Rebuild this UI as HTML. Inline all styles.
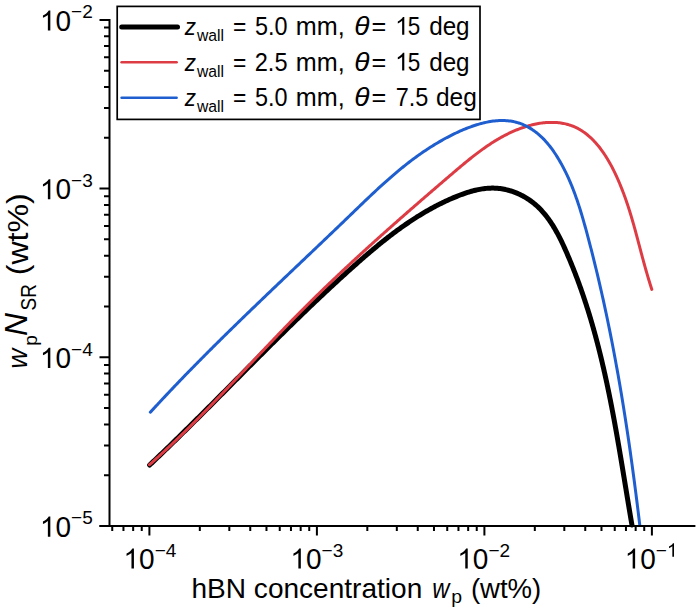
<!DOCTYPE html>
<html><head><meta charset="utf-8"><style>
html,body{margin:0;padding:0;background:#fff;}
svg{display:block;}
text{font-family:"Liberation Sans",sans-serif;fill:#000;}
</style></head><body>
<svg width="700" height="614" viewBox="0 0 700 614">
<rect width="700" height="614" fill="#fff"/>
<g fill="none" stroke-linejoin="round" stroke-linecap="round">
<path d="M149.64,465.02 L150.65,464.06 L151.66,463.09 L152.68,462.13 L153.69,461.17 L154.70,460.21 L155.71,459.24 L156.72,458.28 L157.73,457.31 L158.74,456.35 L159.75,455.38 L160.76,454.42 L161.76,453.45 L162.77,452.48 L163.77,451.51 L164.78,450.55 L165.78,449.58 L166.78,448.61 L167.79,447.64 L168.79,446.67 L169.79,445.70 L170.79,444.73 L171.79,443.76 L172.79,442.79 L173.78,441.81 L174.78,440.84 L175.78,439.87 L176.77,438.90 L177.77,437.92 L178.76,436.95 L179.76,435.97 L180.75,435.00 L181.74,434.03 L182.74,433.05 L183.73,432.08 L184.72,431.10 L185.71,430.12 L186.70,429.15 L187.69,428.17 L188.68,427.19 L189.67,426.22 L190.66,425.24 L191.64,424.26 L192.63,423.28 L193.62,422.31 L194.61,421.33 L195.59,420.35 L196.58,419.37 L197.56,418.39 L198.55,417.41 L199.53,416.43 L200.52,415.45 L201.50,414.47 L202.48,413.49 L203.46,412.51 L204.45,411.53 L205.43,410.55 L206.41,409.57 L207.39,408.59 L208.37,407.61 L209.36,406.63 L210.34,405.65 L211.32,404.66 L212.30,403.68 L213.28,402.70 L214.26,401.72 L215.24,400.74 L216.22,399.75 L217.19,398.77 L218.17,397.79 L219.15,396.81 L220.13,395.83 L221.11,394.84 L222.09,393.86 L223.06,392.88 L224.04,391.90 L225.02,390.91 L226.00,389.93 L226.97,388.95 L227.95,387.96 L228.93,386.98 L229.91,386.00 L230.88,385.02 L231.86,384.03 L232.84,383.05 L233.81,382.07 L234.79,381.09 L235.77,380.10 L236.74,379.12 L237.72,378.14 L238.70,377.16 L239.67,376.17 L240.65,375.19 L241.63,374.21 L242.60,373.23 L243.58,372.25 L244.56,371.26 L245.53,370.28 L246.51,369.30 L247.49,368.32 L248.47,367.34 L249.44,366.36 L250.42,365.38 L251.40,364.40 L252.38,363.41 L253.35,362.43 L254.33,361.45 L255.31,360.47 L256.29,359.49 L257.27,358.51 L258.24,357.53 L259.22,356.55 L260.20,355.57 L261.18,354.60 L262.16,353.62 L263.14,352.64 L264.12,351.66 L265.10,350.68 L266.08,349.70 L267.06,348.73 L268.04,347.75 L269.03,346.77 L270.01,345.80 L270.99,344.82 L271.97,343.84 L272.96,342.87 L273.94,341.89 L274.92,340.92 L275.91,339.94 L276.89,338.97 L277.88,337.99 L278.86,337.02 L279.85,336.04 L280.83,335.07 L281.82,334.10 L282.80,333.13 L283.79,332.15 L284.78,331.18 L285.77,330.21 L286.76,329.24 L287.75,328.27 L288.74,327.30 L289.73,326.33 L290.72,325.36 L291.71,324.39 L292.70,323.42 L293.69,322.45 L294.68,321.49 L295.68,320.52 L296.67,319.55 L297.67,318.59 L298.66,317.62 L299.66,316.66 L300.65,315.69 L301.65,314.73 L302.65,313.76 L303.65,312.80 L304.65,311.84 L305.65,310.87 L306.65,309.91 L307.65,308.95 L308.65,307.99 L309.65,307.03 L310.65,306.07 L311.66,305.11 L312.66,304.15 L313.67,303.20 L314.67,302.24 L315.68,301.28 L316.69,300.33 L317.70,299.37 L318.71,298.42 L319.72,297.46 L320.73,296.51 L321.74,295.56 L322.75,294.60 L323.76,293.65 L324.78,292.70 L325.79,291.75 L326.81,290.80 L327.83,289.85 L328.84,288.90 L329.86,287.96 L330.88,287.01 L331.90,286.06 L332.92,285.12 L333.95,284.17 L334.97,283.23 L335.99,282.29 L337.02,281.34 L338.04,280.40 L339.07,279.46 L340.10,278.52 L341.13,277.58 L342.16,276.64 L343.19,275.70 L344.22,274.77 L345.26,273.83 L346.29,272.89 L347.33,271.96 L348.36,271.02 L349.40,270.09 L350.44,269.16 L351.48,268.23 L352.52,267.30 L353.56,266.37 L354.60,265.44 L355.65,264.51 L356.70,263.58 L357.74,262.66 L358.79,261.74 L359.84,260.81 L360.89,259.89 L361.95,258.97 L363.00,258.06 L364.06,257.14 L365.11,256.23 L366.17,255.31 L367.23,254.40 L368.30,253.50 L369.36,252.59 L370.43,251.69 L371.50,250.79 L372.57,249.89 L373.64,248.99 L374.71,248.10 L375.79,247.21 L376.86,246.32 L377.94,245.43 L379.03,244.55 L380.11,243.67 L381.20,242.79 L382.28,241.92 L383.37,241.04 L384.47,240.18 L385.56,239.31 L386.66,238.45 L387.76,237.59 L388.86,236.74 L389.97,235.89 L391.07,235.04 L392.18,234.20 L393.30,233.36 L394.41,232.52 L395.53,231.69 L396.65,230.86 L397.77,230.04 L398.90,229.22 L400.03,228.40 L401.16,227.59 L402.29,226.79 L403.43,225.98 L404.57,225.19 L405.71,224.39 L406.86,223.61 L408.01,222.82 L409.16,222.04 L410.32,221.27 L411.48,220.50 L412.64,219.74 L413.80,218.98 L414.97,218.23 L416.14,217.48 L417.32,216.74 L418.50,216.00 L419.68,215.27 L420.86,214.55 L422.05,213.83 L423.24,213.11 L424.44,212.40 L425.64,211.70 L426.84,211.01 L428.05,210.32 L429.26,209.63 L430.48,208.95 L431.69,208.28 L432.92,207.62 L434.14,206.96 L435.37,206.31 L436.61,205.66 L437.84,205.03 L439.09,204.39 L440.33,203.77 L441.58,203.15 L442.84,202.54 L444.10,201.94 L445.36,201.34 L446.63,200.75 L447.90,200.17 L449.17,199.59 L450.45,199.03 L451.74,198.47 L453.03,197.91 L454.32,197.37 L455.62,196.83 L456.92,196.31 L458.23,195.79 L459.54,195.28 L460.85,194.78 L462.17,194.29 L463.49,193.81 L464.82,193.35 L466.15,192.90 L467.49,192.46 L468.82,192.04 L470.16,191.64 L471.51,191.25 L472.85,190.89 L474.20,190.54 L475.55,190.21 L476.90,189.90 L478.26,189.61 L479.62,189.35 L480.98,189.10 L482.34,188.89 L483.70,188.69 L485.07,188.53 L486.43,188.38 L487.80,188.27 L489.17,188.18 L490.54,188.13 L491.91,188.10 L493.28,188.10 L494.65,188.14 L496.03,188.20 L497.40,188.30 L498.77,188.44 L500.14,188.60 L501.51,188.79 L502.87,189.02 L504.23,189.27 L505.59,189.56 L506.94,189.88 L508.29,190.22 L509.63,190.59 L510.96,190.99 L512.28,191.42 L513.60,191.88 L514.90,192.36 L516.20,192.87 L517.48,193.40 L518.76,193.96 L520.02,194.55 L521.27,195.16 L522.50,195.79 L523.72,196.45 L524.92,197.13 L526.11,197.83 L527.28,198.55 L528.44,199.30 L529.57,200.07 L530.69,200.86 L531.79,201.67 L532.87,202.50 L533.93,203.35 L534.97,204.22 L536.00,205.10 L537.00,206.01 L537.99,206.93 L538.97,207.87 L539.92,208.83 L540.86,209.81 L541.79,210.80 L542.69,211.81 L543.59,212.83 L544.47,213.87 L545.33,214.92 L546.18,215.99 L547.01,217.07 L547.84,218.16 L548.64,219.27 L549.44,220.39 L550.22,221.52 L550.99,222.66 L551.75,223.82 L552.50,224.98 L553.23,226.16 L553.95,227.35 L554.67,228.54 L555.37,229.75 L556.06,230.96 L556.74,232.18 L557.42,233.41 L558.08,234.65 L558.74,235.90 L559.38,237.15 L560.02,238.40 L560.65,239.67 L561.27,240.94 L561.89,242.21 L562.50,243.49 L563.10,244.77 L563.69,246.06 L564.28,247.35 L564.87,248.64 L565.44,249.94 L566.02,251.24 L566.59,252.54 L567.15,253.84 L567.71,255.14 L568.27,256.44 L568.82,257.75 L569.37,259.05 L569.91,260.35 L570.45,261.66 L570.99,262.96 L571.52,264.27 L572.05,265.58 L572.58,266.88 L573.10,268.19 L573.62,269.50 L574.14,270.81 L574.65,272.12 L575.16,273.43 L575.66,274.74 L576.16,276.05 L576.66,277.37 L577.15,278.68 L577.64,279.99 L578.13,281.31 L578.61,282.62 L579.09,283.94 L579.57,285.25 L580.04,286.57 L580.51,287.89 L580.98,289.21 L581.44,290.52 L581.90,291.84 L582.36,293.16 L582.81,294.48 L583.26,295.80 L583.71,297.13 L584.15,298.45 L584.59,299.77 L585.03,301.09 L585.47,302.42 L585.90,303.74 L586.33,305.06 L586.75,306.39 L587.17,307.72 L587.59,309.04 L588.01,310.37 L588.42,311.70 L588.83,313.02 L589.24,314.35 L589.65,315.68 L590.05,317.01 L590.45,318.34 L590.84,319.67 L591.24,321.00 L591.63,322.33 L592.02,323.67 L592.40,325.00 L592.79,326.33 L593.17,327.67 L593.54,329.00 L593.92,330.33 L594.29,331.67 L594.66,333.01 L595.03,334.34 L595.39,335.68 L595.75,337.02 L596.11,338.35 L596.47,339.69 L596.83,341.03 L597.18,342.37 L597.53,343.71 L597.88,345.05 L598.22,346.39 L598.57,347.73 L598.91,349.07 L599.24,350.41 L599.58,351.76 L599.91,353.10 L600.25,354.44 L600.58,355.78 L600.90,357.13 L601.23,358.47 L601.55,359.82 L601.87,361.16 L602.19,362.51 L602.51,363.86 L602.82,365.20 L603.14,366.55 L603.45,367.90 L603.76,369.25 L604.06,370.59 L604.37,371.94 L604.67,373.29 L604.97,374.64 L605.27,375.99 L605.57,377.34 L605.87,378.69 L606.16,380.05 L606.45,381.40 L606.75,382.75 L607.03,384.10 L607.32,385.45 L607.61,386.81 L607.89,388.16 L608.17,389.52 L608.45,390.87 L608.73,392.23 L609.01,393.58 L609.29,394.94 L609.56,396.29 L609.84,397.65 L610.11,399.01 L610.38,400.36 L610.65,401.72 L610.91,403.08 L611.18,404.44 L611.45,405.79 L611.71,407.15 L611.97,408.51 L612.23,409.87 L612.49,411.23 L612.75,412.59 L613.01,413.95 L613.26,415.31 L613.52,416.67 L613.77,418.04 L614.03,419.40 L614.28,420.76 L614.53,422.12 L614.78,423.49 L615.03,424.85 L615.27,426.21 L615.52,427.58 L615.77,428.94 L616.01,430.30 L616.25,431.67 L616.50,433.03 L616.74,434.40 L616.98,435.76 L617.22,437.13 L617.46,438.50 L617.70,439.86 L617.94,441.23 L618.17,442.60 L618.41,443.96 L618.65,445.33 L618.88,446.70 L619.12,448.07 L619.35,449.44 L619.58,450.80 L619.82,452.17 L620.05,453.54 L620.28,454.91 L620.51,456.28 L620.74,457.65 L620.97,459.02 L621.20,460.39 L621.43,461.76 L621.66,463.13 L621.89,464.50 L622.12,465.88 L622.35,467.25 L622.58,468.62 L622.80,469.99 L623.03,471.36 L623.26,472.74 L623.48,474.11 L623.71,475.48 L623.94,476.85 L624.16,478.23 L624.39,479.60 L624.62,480.97 L624.84,482.35 L625.07,483.72 L625.29,485.10 L625.52,486.47 L625.75,487.85 L625.97,489.22 L626.20,490.60 L626.43,491.97 L626.65,493.35 L626.88,494.72 L627.10,496.10 L627.33,497.47 L627.56,498.85 L627.79,500.23 L628.01,501.60 L628.24,502.98 L628.47,504.36 L628.70,505.73 L628.93,507.11 L629.16,508.49 L629.39,509.87 L629.62,511.24 L629.85,512.62 L630.08,514.00 L630.31,515.38 L630.54,516.75 L630.77,518.13 L631.01,519.51 L631.24,520.89 L631.47,522.27 L631.71,523.65 L631.94,525.03" stroke="#000" stroke-width="5"/>
<path d="M149.50,464.73 L150.42,463.91 L151.34,463.10 L152.26,462.28 L153.17,461.46 L154.09,460.63 L155.01,459.81 L155.92,458.98 L156.83,458.16 L157.75,457.33 L158.66,456.50 L159.57,455.67 L160.48,454.83 L161.38,454.00 L162.29,453.16 L163.20,452.32 L164.10,451.49 L165.00,450.65 L165.91,449.80 L166.81,448.96 L167.71,448.12 L168.61,447.27 L169.51,446.42 L170.41,445.58 L171.30,444.73 L172.20,443.88 L173.09,443.02 L173.99,442.17 L174.88,441.32 L175.77,440.46 L176.67,439.60 L177.56,438.75 L178.45,437.89 L179.34,437.03 L180.22,436.16 L181.11,435.30 L182.00,434.44 L182.89,433.57 L183.77,432.71 L184.65,431.84 L185.54,430.97 L186.42,430.10 L187.30,429.23 L188.18,428.36 L189.07,427.49 L189.95,426.62 L190.82,425.74 L191.70,424.87 L192.58,423.99 L193.46,423.11 L194.33,422.23 L195.21,421.36 L196.09,420.48 L196.96,419.60 L197.83,418.71 L198.71,417.83 L199.58,416.95 L200.45,416.07 L201.32,415.18 L202.19,414.30 L203.06,413.41 L203.93,412.52 L204.80,411.63 L205.67,410.75 L206.54,409.86 L207.41,408.97 L208.28,408.08 L209.14,407.19 L210.01,406.29 L210.87,405.40 L211.74,404.51 L212.60,403.62 L213.47,402.72 L214.33,401.83 L215.20,400.93 L216.06,400.04 L216.92,399.14 L217.78,398.24 L218.65,397.34 L219.51,396.45 L220.37,395.55 L221.23,394.65 L222.09,393.75 L222.95,392.85 L223.81,391.95 L224.67,391.05 L225.53,390.15 L226.39,389.25 L227.25,388.35 L228.11,387.44 L228.96,386.54 L229.82,385.64 L230.68,384.74 L231.54,383.83 L232.39,382.93 L233.25,382.03 L234.11,381.12 L234.96,380.22 L235.82,379.31 L236.68,378.41 L237.53,377.50 L238.39,376.60 L239.24,375.69 L240.10,374.79 L240.96,373.88 L241.81,372.98 L242.67,372.07 L243.52,371.17 L244.38,370.26 L245.23,369.36 L246.09,368.45 L246.94,367.54 L247.80,366.64 L248.65,365.73 L249.51,364.83 L250.36,363.92 L251.22,363.02 L252.07,362.11 L252.93,361.21 L253.78,360.30 L254.64,359.39 L255.49,358.49 L256.35,357.58 L257.20,356.68 L258.06,355.77 L258.91,354.87 L259.77,353.97 L260.62,353.06 L261.48,352.16 L262.33,351.25 L263.19,350.35 L264.05,349.45 L264.90,348.55 L265.76,347.64 L266.61,346.74 L267.47,345.84 L268.33,344.94 L269.19,344.04 L270.04,343.14 L270.90,342.24 L271.76,341.34 L272.62,340.44 L273.47,339.54 L274.33,338.64 L275.19,337.74 L276.05,336.84 L276.91,335.94 L277.77,335.05 L278.63,334.15 L279.49,333.26 L280.35,332.36 L281.21,331.47 L282.08,330.57 L282.94,329.68 L283.80,328.79 L284.66,327.89 L285.52,327.00 L286.39,326.11 L287.25,325.22 L288.12,324.33 L288.98,323.44 L289.85,322.55 L290.71,321.67 L291.58,320.78 L292.45,319.89 L293.31,319.01 L294.18,318.12 L295.05,317.24 L295.92,316.36 L296.79,315.48 L297.66,314.60 L298.53,313.71 L299.40,312.84 L300.27,311.96 L301.14,311.08 L302.01,310.20 L302.89,309.33 L303.76,308.45 L304.63,307.58 L305.51,306.70 L306.39,305.83 L307.26,304.96 L308.14,304.09 L309.01,303.22 L309.89,302.35 L310.77,301.48 L311.65,300.61 L312.53,299.75 L313.41,298.88 L314.29,298.02 L315.17,297.15 L316.05,296.29 L316.94,295.43 L317.82,294.56 L318.70,293.70 L319.59,292.84 L320.47,291.98 L321.36,291.12 L322.24,290.26 L323.13,289.41 L324.01,288.55 L324.90,287.69 L325.79,286.84 L326.68,285.98 L327.57,285.13 L328.46,284.28 L329.35,283.42 L330.24,282.57 L331.13,281.72 L332.02,280.87 L332.91,280.02 L333.81,279.17 L334.70,278.32 L335.59,277.47 L336.49,276.62 L337.38,275.78 L338.28,274.93 L339.17,274.09 L340.07,273.24 L340.97,272.40 L341.87,271.55 L342.76,270.71 L343.66,269.87 L344.56,269.02 L345.46,268.18 L346.36,267.34 L347.26,266.50 L348.17,265.66 L349.07,264.82 L349.97,263.98 L350.87,263.15 L351.78,262.31 L352.68,261.47 L353.59,260.63 L354.49,259.80 L355.40,258.96 L356.30,258.13 L357.21,257.29 L358.12,256.46 L359.03,255.62 L359.94,254.79 L360.84,253.96 L361.75,253.12 L362.66,252.29 L363.57,251.46 L364.49,250.63 L365.40,249.80 L366.31,248.97 L367.22,248.14 L368.14,247.31 L369.05,246.48 L369.96,245.65 L370.88,244.82 L371.79,244.00 L372.71,243.17 L373.63,242.34 L374.54,241.51 L375.46,240.69 L376.38,239.86 L377.30,239.04 L378.22,238.21 L379.14,237.38 L380.06,236.56 L380.98,235.74 L381.90,234.91 L382.82,234.09 L383.74,233.26 L384.66,232.44 L385.59,231.62 L386.51,230.79 L387.43,229.97 L388.36,229.15 L389.28,228.33 L390.21,227.51 L391.14,226.69 L392.06,225.86 L392.99,225.04 L393.92,224.22 L394.85,223.40 L395.77,222.58 L396.70,221.76 L397.63,220.94 L398.56,220.12 L399.49,219.30 L400.43,218.48 L401.36,217.66 L402.29,216.85 L403.22,216.03 L404.16,215.21 L405.09,214.39 L406.02,213.57 L406.96,212.75 L407.89,211.94 L408.83,211.12 L409.77,210.30 L410.70,209.48 L411.64,208.66 L412.58,207.85 L413.51,207.03 L414.45,206.21 L415.39,205.40 L416.33,204.58 L417.27,203.76 L418.21,202.94 L419.15,202.13 L420.10,201.31 L421.04,200.49 L421.98,199.68 L422.92,198.86 L423.87,198.04 L424.81,197.23 L425.75,196.41 L426.70,195.59 L427.64,194.78 L428.59,193.96 L429.54,193.14 L430.48,192.33 L431.43,191.51 L432.38,190.69 L433.33,189.88 L434.28,189.06 L435.23,188.24 L436.17,187.43 L437.13,186.61 L438.08,185.79 L439.03,184.97 L439.98,184.16 L440.93,183.34 L441.88,182.52 L442.84,181.70 L443.79,180.89 L444.74,180.07 L445.70,179.25 L446.65,178.43 L447.61,177.61 L448.56,176.80 L449.52,175.98 L450.48,175.16 L451.43,174.34 L452.39,173.52 L453.35,172.70 L454.31,171.89 L455.27,171.07 L456.23,170.25 L457.19,169.44 L458.15,168.62 L459.12,167.81 L460.08,167.00 L461.05,166.19 L462.02,165.38 L462.99,164.58 L463.96,163.77 L464.93,162.97 L465.90,162.17 L466.88,161.38 L467.85,160.58 L468.83,159.79 L469.81,159.01 L470.79,158.22 L471.78,157.44 L472.76,156.67 L473.75,155.89 L474.74,155.13 L475.74,154.36 L476.73,153.60 L477.73,152.85 L478.73,152.10 L479.73,151.35 L480.74,150.61 L481.75,149.88 L482.76,149.15 L483.77,148.43 L484.79,147.71 L485.81,147.00 L486.83,146.29 L487.86,145.59 L488.89,144.90 L489.92,144.21 L490.96,143.53 L492.00,142.86 L493.04,142.20 L494.09,141.54 L495.14,140.89 L496.19,140.25 L497.25,139.61 L498.31,138.99 L499.38,138.37 L500.45,137.76 L501.52,137.16 L502.60,136.57 L503.68,135.98 L504.77,135.41 L505.86,134.84 L506.95,134.29 L508.05,133.74 L509.16,133.21 L510.27,132.68 L511.38,132.16 L512.50,131.66 L513.62,131.16 L514.75,130.68 L515.88,130.21 L517.02,129.74 L518.17,129.29 L519.31,128.85 L520.47,128.42 L521.63,128.01 L522.79,127.60 L523.96,127.21 L525.14,126.83 L526.32,126.46 L527.51,126.10 L528.70,125.76 L529.90,125.43 L531.11,125.11 L532.32,124.81 L533.53,124.52 L534.76,124.25 L535.98,123.99 L537.21,123.75 L538.45,123.53 L539.69,123.32 L540.93,123.14 L542.18,122.97 L543.43,122.83 L544.68,122.70 L545.93,122.59 L547.18,122.51 L548.43,122.45 L549.69,122.40 L550.94,122.38 L552.18,122.38 L553.43,122.40 L554.67,122.45 L555.91,122.52 L557.14,122.61 L558.37,122.72 L559.59,122.86 L560.81,123.02 L562.01,123.20 L563.21,123.41 L564.40,123.65 L565.58,123.91 L566.75,124.19 L567.91,124.50 L569.05,124.84 L570.19,125.20 L571.31,125.59 L572.42,126.00 L573.52,126.44 L574.60,126.90 L575.67,127.39 L576.73,127.90 L577.77,128.44 L578.81,129.00 L579.83,129.58 L580.84,130.19 L581.84,130.81 L582.82,131.46 L583.80,132.13 L584.76,132.82 L585.71,133.53 L586.65,134.26 L587.58,135.01 L588.49,135.78 L589.40,136.57 L590.29,137.37 L591.17,138.19 L592.04,139.03 L592.91,139.89 L593.76,140.76 L594.59,141.65 L595.42,142.56 L596.24,143.48 L597.05,144.41 L597.85,145.36 L598.63,146.32 L599.41,147.30 L600.18,148.29 L600.93,149.29 L601.68,150.30 L602.42,151.33 L603.14,152.36 L603.86,153.41 L604.57,154.47 L605.27,155.54 L605.96,156.61 L606.64,157.70 L607.31,158.79 L607.97,159.90 L608.62,161.01 L609.27,162.13 L609.90,163.25 L610.53,164.38 L611.15,165.52 L611.76,166.67 L612.36,167.81 L612.95,168.97 L613.54,170.13 L614.11,171.29 L614.68,172.45 L615.24,173.62 L615.79,174.79 L616.34,175.97 L616.88,177.14 L617.40,178.32 L617.93,179.50 L618.44,180.68 L618.95,181.85 L619.45,183.03 L619.94,184.21 L620.43,185.39 L620.91,186.56 L621.38,187.74 L621.84,188.91 L622.30,190.08 L622.75,191.25 L623.20,192.42 L623.64,193.59 L624.07,194.76 L624.50,195.92 L624.93,197.09 L625.34,198.25 L625.76,199.42 L626.16,200.58 L626.56,201.75 L626.96,202.91 L627.35,204.07 L627.74,205.23 L628.12,206.39 L628.50,207.55 L628.87,208.71 L629.24,209.87 L629.61,211.03 L629.97,212.19 L630.33,213.35 L630.68,214.51 L631.03,215.67 L631.38,216.83 L631.72,217.99 L632.07,219.15 L632.40,220.31 L632.74,221.47 L633.07,222.63 L633.40,223.79 L633.73,224.95 L634.06,226.11 L634.38,227.28 L634.71,228.44 L635.03,229.60 L635.34,230.76 L635.66,231.93 L635.98,233.09 L636.29,234.26 L636.61,235.42 L636.92,236.59 L637.23,237.76 L637.54,238.93 L637.85,240.10 L638.16,241.27 L638.47,242.44 L638.78,243.61 L639.09,244.78 L639.40,245.96 L639.71,247.13 L640.02,248.31 L640.33,249.49 L640.65,250.67 L640.96,251.85 L641.27,253.03 L641.59,254.22 L641.90,255.41 L642.22,256.59 L642.54,257.78 L642.86,258.97 L643.19,260.17 L643.51,261.36 L643.84,262.56 L644.17,263.75 L644.50,264.95 L644.83,266.16 L645.17,267.36 L645.51,268.57 L645.85,269.78 L646.20,270.99 L646.54,272.20 L646.90,273.41 L647.25,274.63 L647.61,275.85 L647.97,277.07 L648.34,278.30 L648.71,279.52 L649.09,280.75 L649.47,281.99 L649.85,283.22 L650.24,284.46 L650.63,285.70 L651.03,286.94 L651.43,288.19 L651.84,289.44" stroke="#dd3c44" stroke-width="3"/>
<path d="M150.32,412.26 L151.35,411.13 L152.38,410.01 L153.42,408.88 L154.45,407.76 L155.48,406.64 L156.52,405.52 L157.55,404.40 L158.59,403.28 L159.63,402.17 L160.67,401.05 L161.71,399.94 L162.75,398.82 L163.79,397.71 L164.84,396.60 L165.88,395.49 L166.92,394.38 L167.97,393.27 L169.02,392.16 L170.06,391.06 L171.11,389.95 L172.16,388.85 L173.21,387.74 L174.26,386.64 L175.32,385.54 L176.37,384.44 L177.42,383.34 L178.48,382.24 L179.53,381.14 L180.59,380.04 L181.65,378.95 L182.70,377.85 L183.76,376.76 L184.82,375.66 L185.88,374.57 L186.94,373.48 L188.01,372.39 L189.07,371.30 L190.13,370.21 L191.20,369.12 L192.26,368.03 L193.33,366.94 L194.39,365.86 L195.46,364.77 L196.53,363.69 L197.60,362.60 L198.67,361.52 L199.74,360.44 L200.81,359.35 L201.88,358.27 L202.95,357.19 L204.03,356.11 L205.10,355.03 L206.17,353.96 L207.25,352.88 L208.32,351.80 L209.40,350.73 L210.48,349.65 L211.55,348.58 L212.63,347.50 L213.71,346.43 L214.79,345.35 L215.87,344.28 L216.95,343.21 L218.03,342.14 L219.11,341.07 L220.19,340.00 L221.28,338.93 L222.36,337.86 L223.44,336.79 L224.53,335.73 L225.61,334.66 L226.70,333.59 L227.78,332.53 L228.87,331.46 L229.96,330.40 L231.04,329.33 L232.13,328.27 L233.22,327.21 L234.31,326.14 L235.40,325.08 L236.49,324.02 L237.58,322.96 L238.67,321.90 L239.76,320.84 L240.85,319.78 L241.94,318.72 L243.03,317.66 L244.13,316.60 L245.22,315.54 L246.31,314.49 L247.41,313.43 L248.50,312.37 L249.59,311.32 L250.69,310.26 L251.78,309.20 L252.88,308.15 L253.97,307.09 L255.07,306.04 L256.17,304.98 L257.26,303.93 L258.36,302.88 L259.46,301.82 L260.55,300.77 L261.65,299.72 L262.75,298.66 L263.85,297.61 L264.95,296.56 L266.04,295.51 L267.14,294.46 L268.24,293.40 L269.34,292.35 L270.44,291.30 L271.54,290.25 L272.64,289.20 L273.74,288.15 L274.84,287.10 L275.94,286.05 L277.04,285.00 L278.14,283.95 L279.24,282.90 L280.35,281.86 L281.45,280.81 L282.55,279.76 L283.65,278.71 L284.75,277.66 L285.85,276.61 L286.96,275.56 L288.06,274.52 L289.16,273.47 L290.26,272.42 L291.36,271.37 L292.47,270.32 L293.57,269.28 L294.67,268.23 L295.77,267.18 L296.87,266.13 L297.98,265.09 L299.08,264.04 L300.18,262.99 L301.28,261.94 L302.39,260.89 L303.49,259.85 L304.59,258.80 L305.69,257.75 L306.80,256.70 L307.90,255.66 L309.00,254.61 L310.10,253.56 L311.21,252.51 L312.31,251.47 L313.41,250.42 L314.51,249.37 L315.61,248.32 L316.71,247.27 L317.82,246.22 L318.92,245.18 L320.02,244.13 L321.12,243.08 L322.22,242.03 L323.32,240.98 L324.42,239.93 L325.52,238.88 L326.62,237.83 L327.72,236.78 L328.82,235.73 L329.92,234.68 L331.02,233.63 L332.12,232.58 L333.22,231.53 L334.32,230.48 L335.42,229.43 L336.52,228.37 L337.62,227.32 L338.71,226.27 L339.81,225.22 L340.91,224.17 L342.01,223.11 L343.10,222.06 L344.20,221.01 L345.29,219.95 L346.39,218.90 L347.49,217.84 L348.58,216.79 L349.68,215.73 L350.77,214.68 L351.87,213.62 L352.96,212.56 L354.05,211.51 L355.15,210.45 L356.24,209.40 L357.34,208.34 L358.43,207.28 L359.53,206.23 L360.62,205.17 L361.72,204.12 L362.81,203.07 L363.91,202.01 L365.01,200.96 L366.11,199.91 L367.21,198.86 L368.31,197.81 L369.42,196.77 L370.52,195.72 L371.63,194.68 L372.74,193.64 L373.85,192.60 L374.96,191.56 L376.07,190.52 L377.19,189.49 L378.30,188.45 L379.42,187.42 L380.55,186.40 L381.67,185.37 L382.80,184.35 L383.93,183.33 L385.06,182.31 L386.20,181.30 L387.33,180.29 L388.48,179.28 L389.62,178.27 L390.77,177.27 L391.92,176.27 L393.07,175.28 L394.23,174.29 L395.40,173.30 L396.56,172.31 L397.73,171.34 L398.90,170.36 L400.08,169.39 L401.26,168.42 L402.45,167.46 L403.64,166.50 L404.83,165.55 L406.03,164.60 L407.24,163.65 L408.45,162.71 L409.66,161.78 L410.88,160.85 L412.10,159.92 L413.33,159.00 L414.57,158.09 L415.81,157.18 L417.05,156.28 L418.30,155.38 L419.56,154.49 L420.82,153.61 L422.09,152.73 L423.37,151.85 L424.65,150.99 L425.93,150.13 L427.22,149.27 L428.52,148.42 L429.83,147.58 L431.14,146.75 L432.46,145.92 L433.79,145.10 L435.12,144.29 L436.46,143.48 L437.81,142.68 L439.16,141.89 L440.52,141.10 L441.89,140.33 L443.27,139.56 L444.65,138.80 L446.04,138.04 L447.44,137.30 L448.85,136.56 L450.27,135.83 L451.69,135.11 L453.12,134.40 L454.56,133.69 L456.01,133.00 L457.46,132.32 L458.92,131.65 L460.38,130.99 L461.85,130.35 L463.32,129.72 L464.80,129.10 L466.28,128.50 L467.77,127.92 L469.26,127.35 L470.75,126.80 L472.24,126.27 L473.74,125.76 L475.24,125.26 L476.73,124.79 L478.23,124.34 L479.73,123.91 L481.23,123.50 L482.73,123.11 L484.23,122.75 L485.72,122.41 L487.22,122.10 L488.71,121.81 L490.20,121.55 L491.68,121.32 L493.16,121.11 L494.64,120.94 L496.12,120.79 L497.58,120.67 L499.05,120.59 L500.51,120.53 L501.96,120.51 L503.40,120.52 L504.84,120.56 L506.27,120.64 L507.70,120.75 L509.11,120.90 L510.52,121.09 L511.91,121.31 L513.30,121.57 L514.68,121.86 L516.05,122.20 L517.41,122.58 L518.75,122.99 L520.09,123.44 L521.41,123.93 L522.72,124.46 L524.02,125.02 L525.31,125.62 L526.58,126.25 L527.84,126.92 L529.09,127.62 L530.32,128.35 L531.54,129.11 L532.75,129.91 L533.94,130.73 L535.11,131.59 L536.28,132.47 L537.42,133.38 L538.55,134.32 L539.66,135.29 L540.76,136.29 L541.84,137.30 L542.90,138.35 L543.94,139.42 L544.97,140.51 L545.98,141.63 L546.98,142.76 L547.95,143.92 L548.91,145.09 L549.86,146.29 L550.79,147.50 L551.70,148.72 L552.60,149.96 L553.48,151.22 L554.35,152.49 L555.21,153.77 L556.05,155.05 L556.87,156.35 L557.68,157.66 L558.48,158.98 L559.27,160.30 L560.04,161.62 L560.80,162.96 L561.55,164.29 L562.28,165.64 L563.01,166.99 L563.72,168.35 L564.42,169.71 L565.11,171.07 L565.78,172.44 L566.45,173.82 L567.10,175.20 L567.75,176.59 L568.38,177.98 L569.01,179.38 L569.62,180.78 L570.23,182.18 L570.82,183.59 L571.41,185.00 L571.98,186.42 L572.55,187.84 L573.11,189.26 L573.66,190.69 L574.20,192.12 L574.74,193.56 L575.26,195.00 L575.78,196.44 L576.29,197.88 L576.80,199.33 L577.30,200.78 L577.79,202.23 L578.27,203.69 L578.75,205.15 L579.22,206.61 L579.69,208.07 L580.15,209.54 L580.60,211.00 L581.05,212.47 L581.50,213.94 L581.94,215.41 L582.37,216.89 L582.81,218.36 L583.23,219.84 L583.66,221.32 L584.08,222.80 L584.49,224.28 L584.90,225.76 L585.31,227.24 L585.72,228.72 L586.13,230.20 L586.53,231.68 L586.93,233.17 L587.33,234.65 L587.72,236.13 L588.12,237.62 L588.51,239.10 L588.90,240.58 L589.29,242.07 L589.68,243.55 L590.06,245.03 L590.45,246.52 L590.83,248.00 L591.21,249.48 L591.59,250.97 L591.97,252.45 L592.34,253.93 L592.72,255.42 L593.09,256.90 L593.46,258.38 L593.83,259.87 L594.20,261.35 L594.57,262.83 L594.93,264.32 L595.29,265.80 L595.66,267.28 L596.02,268.77 L596.38,270.25 L596.73,271.73 L597.09,273.22 L597.44,274.70 L597.79,276.19 L598.15,277.67 L598.49,279.15 L598.84,280.64 L599.19,282.12 L599.53,283.61 L599.88,285.09 L600.22,286.57 L600.56,288.06 L600.90,289.54 L601.24,291.03 L601.57,292.51 L601.91,294.00 L602.24,295.48 L602.57,296.97 L602.90,298.45 L603.23,299.94 L603.56,301.42 L603.88,302.91 L604.21,304.39 L604.53,305.88 L604.85,307.36 L605.17,308.85 L605.49,310.33 L605.81,311.82 L606.13,313.31 L606.44,314.79 L606.75,316.28 L607.07,317.76 L607.38,319.25 L607.69,320.74 L607.99,322.22 L608.30,323.71 L608.61,325.20 L608.91,326.68 L609.21,328.17 L609.51,329.66 L609.81,331.15 L610.11,332.63 L610.41,334.12 L610.71,335.61 L611.00,337.10 L611.30,338.59 L611.59,340.07 L611.88,341.56 L612.17,343.05 L612.46,344.54 L612.74,346.03 L613.03,347.52 L613.32,349.01 L613.60,350.50 L613.88,351.99 L614.16,353.48 L614.44,354.97 L614.72,356.46 L615.00,357.95 L615.28,359.44 L615.55,360.93 L615.82,362.42 L616.10,363.91 L616.37,365.40 L616.64,366.90 L616.91,368.39 L617.18,369.88 L617.44,371.37 L617.71,372.87 L617.97,374.36 L618.24,375.85 L618.50,377.34 L618.76,378.84 L619.02,380.33 L619.28,381.83 L619.54,383.32 L619.80,384.81 L620.05,386.31 L620.31,387.80 L620.56,389.30 L620.81,390.79 L621.07,392.29 L621.32,393.78 L621.57,395.28 L621.81,396.78 L622.06,398.27 L622.31,399.77 L622.55,401.27 L622.80,402.76 L623.04,404.26 L623.28,405.76 L623.53,407.26 L623.77,408.76 L624.01,410.25 L624.24,411.75 L624.48,413.25 L624.72,414.75 L624.95,416.25 L625.19,417.75 L625.42,419.25 L625.65,420.75 L625.89,422.25 L626.12,423.75 L626.35,425.26 L626.58,426.76 L626.80,428.26 L627.03,429.76 L627.26,431.26 L627.48,432.77 L627.71,434.27 L627.93,435.77 L628.15,437.28 L628.38,438.78 L628.60,440.29 L628.82,441.79 L629.04,443.30 L629.26,444.80 L629.47,446.31 L629.69,447.81 L629.91,449.32 L630.12,450.83 L630.34,452.33 L630.55,453.84 L630.76,455.35 L630.97,456.86 L631.18,458.37 L631.39,459.87 L631.60,461.38 L631.81,462.89 L632.02,464.40 L632.23,465.91 L632.43,467.42 L632.64,468.94 L632.85,470.45 L633.05,471.96 L633.25,473.47 L633.46,474.98 L633.66,476.50 L633.86,478.01 L634.06,479.52 L634.26,481.04 L634.46,482.55 L634.66,484.07 L634.86,485.58 L635.05,487.10 L635.25,488.61 L635.45,490.13 L635.64,491.65 L635.84,493.16 L636.03,494.68 L636.22,496.20 L636.42,497.72 L636.61,499.24 L636.80,500.76 L636.99,502.28 L637.18,503.80 L637.37,505.32 L637.56,506.84 L637.75,508.36 L637.94,509.88 L638.12,511.40 L638.31,512.93 L638.50,514.45 L638.68,515.97 L638.87,517.50 L639.05,519.02 L639.23,520.55 L639.42,522.07 L639.60,523.60 L639.78,525.12" stroke="#1f5ecf" stroke-width="3"/>
</g>
<g stroke="#000" stroke-width="2" fill="none">
<path d="M109.5,18.88V526.95"/>
<path d="M99.50,525.95H695.4"/>
<path d="M99.50,525.95H109.50 M104.00,475.17H109.50 M104.00,445.46H109.50 M104.00,424.39H109.50 M104.00,408.04H109.50 M104.00,394.68H109.50 M104.00,383.39H109.50 M104.00,373.61H109.50 M104.00,364.98H109.50 M99.50,357.26H109.50 M104.00,306.48H109.50 M104.00,276.77H109.50 M104.00,255.70H109.50 M104.00,239.35H109.50 M104.00,225.99H109.50 M104.00,214.70H109.50 M104.00,204.92H109.50 M104.00,196.29H109.50 M99.50,188.57H109.50 M104.00,137.79H109.50 M104.00,108.08H109.50 M104.00,87.01H109.50 M104.00,70.66H109.50 M104.00,57.30H109.50 M104.00,46.01H109.50 M104.00,36.23H109.50 M104.00,27.60H109.50 M99.50,19.88H109.50 M104.00,-30.90H109.50 M104.00,-60.61H109.50 M104.00,-81.68H109.50 M104.00,-98.03H109.50 M104.00,-111.39H109.50 M104.00,-122.68H109.50 M104.00,-132.46H109.50 M104.00,-141.09H109.50 M99.50,19.88H109.50 M112.24,525.95V530.95 M123.45,525.95V530.95 M133.17,525.95V530.95 M141.74,525.95V530.95 M149.40,525.95V535.45 M199.82,525.95V530.95 M229.32,525.95V530.95 M250.25,525.95V530.95 M266.48,525.95V530.95 M279.74,525.95V530.95 M290.95,525.95V530.95 M300.67,525.95V530.95 M309.24,525.95V530.95 M316.90,525.95V535.45 M367.32,525.95V530.95 M396.82,525.95V530.95 M417.75,525.95V530.95 M433.98,525.95V530.95 M447.24,525.95V530.95 M458.45,525.95V530.95 M468.17,525.95V530.95 M476.74,525.95V530.95 M484.40,525.95V535.45 M534.82,525.95V530.95 M564.32,525.95V530.95 M585.25,525.95V530.95 M601.48,525.95V530.95 M614.74,525.95V530.95 M625.95,525.95V530.95 M635.67,525.95V530.95 M644.24,525.95V530.95 M651.90,525.95V535.45"/>
</g>
<g font-size="28">
<path transform="translate(39.90,30.58) scale(0.01367,-0.01367)" d="M763,0L583,0L583,1147Q518,1085 412,1023Q307,961 223,930L223,1104Q374,1175 487,1276Q600,1377 647,1472L763,1472Z" fill="#000"/><text transform="translate(55.47,30.58) scale(1,1.04)" font-size="28">0</text><text transform="translate(71.04,18.28)" font-size="19">−2</text>
<path transform="translate(39.90,199.27) scale(0.01367,-0.01367)" d="M763,0L583,0L583,1147Q518,1085 412,1023Q307,961 223,930L223,1104Q374,1175 487,1276Q600,1377 647,1472L763,1472Z" fill="#000"/><text transform="translate(55.47,199.27) scale(1,1.04)" font-size="28">0</text><text transform="translate(71.04,186.97)" font-size="19">−3</text>
<path transform="translate(39.90,367.96) scale(0.01367,-0.01367)" d="M763,0L583,0L583,1147Q518,1085 412,1023Q307,961 223,930L223,1104Q374,1175 487,1276Q600,1377 647,1472L763,1472Z" fill="#000"/><text transform="translate(55.47,367.96) scale(1,1.04)" font-size="28">0</text><text transform="translate(71.04,355.66)" font-size="19">−4</text>
<path transform="translate(39.90,536.65) scale(0.01367,-0.01367)" d="M763,0L583,0L583,1147Q518,1085 412,1023Q307,961 223,930L223,1104Q374,1175 487,1276Q600,1377 647,1472L763,1472Z" fill="#000"/><text transform="translate(55.47,536.65) scale(1,1.04)" font-size="28">0</text><text transform="translate(71.04,524.35)" font-size="19">−5</text>
<path transform="translate(123.50,568.60) scale(0.01367,-0.01367)" d="M763,0L583,0L583,1147Q518,1085 412,1023Q307,961 223,930L223,1104Q374,1175 487,1276Q600,1377 647,1472L763,1472Z" fill="#000"/><text transform="translate(139.07,568.60) scale(1,1.04)" font-size="28">0</text><text transform="translate(154.64,556.80)" font-size="19">−4</text>
<path transform="translate(290.40,568.60) scale(0.01367,-0.01367)" d="M763,0L583,0L583,1147Q518,1085 412,1023Q307,961 223,930L223,1104Q374,1175 487,1276Q600,1377 647,1472L763,1472Z" fill="#000"/><text transform="translate(305.97,568.60) scale(1,1.04)" font-size="28">0</text><text transform="translate(321.54,556.80)" font-size="19">−3</text>
<path transform="translate(457.30,568.60) scale(0.01367,-0.01367)" d="M763,0L583,0L583,1147Q518,1085 412,1023Q307,961 223,930L223,1104Q374,1175 487,1276Q600,1377 647,1472L763,1472Z" fill="#000"/><text transform="translate(472.87,568.60) scale(1,1.04)" font-size="28">0</text><text transform="translate(488.44,556.80)" font-size="19">−2</text>
<path transform="translate(624.70,568.60) scale(0.01367,-0.01367)" d="M763,0L583,0L583,1147Q518,1085 412,1023Q307,961 223,930L223,1104Q374,1175 487,1276Q600,1377 647,1472L763,1472Z" fill="#000"/><text transform="translate(640.27,568.60) scale(1,1.04)" font-size="28">0</text><text transform="translate(655.84,556.80)" font-size="19">−</text><path transform="translate(666.93,556.80) scale(0.00928,-0.00928)" d="M763,0L583,0L583,1147Q518,1085 412,1023Q307,961 223,930L223,1104Q374,1175 487,1276Q600,1377 647,1472L763,1472Z" fill="#000"/>

</g>
<text transform="translate(191.49,597.50) scale(1.0026,1.0000)" font-size="28" font-family="Liberation Sans" font-style="normal">hBN concentration</text><text transform="translate(432.13,597.50) scale(0.8494,1.0000)" font-size="28" font-family="Liberation Sans" font-style="italic">w</text><text transform="translate(451.32,603.00) scale(1.0235,1.0000)" font-size="19" font-family="Liberation Sans" font-style="normal">p</text><text transform="translate(470.88,597.50) scale(0.9838,1.0000)" font-size="28" font-family="Liberation Sans" font-style="normal">(wt%)</text>
<text transform="translate(27.20,368.79) rotate(-90) scale(0.9926,0.9831)" font-size="28" font-family="Liberation Sans" font-style="italic">w</text><text transform="translate(36.72,345.64) rotate(-90) scale(0.9158,0.8903)" font-size="21" font-family="Liberation Sans" font-style="normal">p</text><text transform="translate(27.40,335.93) rotate(-90) scale(1.1325,1.1158)" font-size="28" font-family="Liberation Sans" font-style="italic">N</text><text transform="translate(36.25,310.40) rotate(-90) scale(0.8963,1.0102)" font-size="21" font-family="Liberation Sans" font-style="normal">SR</text><text transform="translate(27.74,275.31) rotate(-90) scale(1.1471,1.0369)" font-size="28" font-family="Liberation Sans" font-style="normal">(wt%)</text>
<rect x="117.2" y="6.4" width="362.8" height="113" fill="#fff" stroke="#000" stroke-width="1.7"/>
<g stroke-linecap="round">
<path d="M121.7,27.0H177.5" stroke="#000" stroke-width="5"/>
<path d="M121.6,62.3H176.6" stroke="#dd3c44" stroke-width="2.6"/>
<path d="M121.6,97.7H176.6" stroke="#1f5ecf" stroke-width="2.6"/>
</g>
<text transform="translate(184.72,34.70) scale(0.8627,0.9100)" font-size="26" font-family="Liberation Sans" font-style="italic">z</text><text transform="translate(197.00,41.00) scale(0.9239,1.0000)" font-size="17" font-family="Liberation Sans" font-style="normal">wall</text><text transform="translate(232.90,34.70) scale(0.8784,1.0000)" font-size="26" font-family="Liberation Sans" font-style="normal">=</text><text transform="translate(255.00,34.70) scale(0.9000,1.0000)" font-size="26" font-family="Liberation Sans" font-style="normal">5.0</text><text transform="translate(295.81,34.70) scale(0.9677,1.0000)" font-size="26" font-family="Liberation Sans" font-style="normal">mm,</text><text transform="translate(354.15,34.70) scale(1.0818,1.0000)" font-size="26" font-family="Liberation Serif" font-style="italic">θ</text><text transform="translate(371.38,34.70) scale(0.9725,1.0000)" font-size="26" font-family="Liberation Sans" font-style="normal">=</text><path transform="translate(395.11,34.70) scale(0.01206,-0.01206)" d="M763,0L583,0L583,1147Q518,1085 412,1023Q307,961 223,930L223,1104Q374,1175 487,1276Q600,1377 647,1472L763,1472Z" fill="#000"/><text transform="translate(407.83,34.70) scale(0.8653,1.0000)" font-size="26" font-family="Liberation Sans" font-style="normal">5</text><text transform="translate(429.17,34.70) scale(0.9325,1.0000)" font-size="26" font-family="Liberation Sans" font-style="normal">deg</text>
<text transform="translate(184.72,70.50) scale(0.8627,0.9100)" font-size="26" font-family="Liberation Sans" font-style="italic">z</text><text transform="translate(197.00,76.80) scale(0.9239,1.0000)" font-size="17" font-family="Liberation Sans" font-style="normal">wall</text><text transform="translate(232.90,70.50) scale(0.8784,1.0000)" font-size="26" font-family="Liberation Sans" font-style="normal">=</text><text transform="translate(254.77,70.50) scale(0.9067,1.0000)" font-size="26" font-family="Liberation Sans" font-style="normal">2.5</text><text transform="translate(295.81,70.50) scale(0.9677,1.0000)" font-size="26" font-family="Liberation Sans" font-style="normal">mm,</text><text transform="translate(354.15,70.50) scale(1.0818,1.0000)" font-size="26" font-family="Liberation Serif" font-style="italic">θ</text><text transform="translate(371.38,70.50) scale(0.9725,1.0000)" font-size="26" font-family="Liberation Sans" font-style="normal">=</text><path transform="translate(395.11,70.50) scale(0.01206,-0.01206)" d="M763,0L583,0L583,1147Q518,1085 412,1023Q307,961 223,930L223,1104Q374,1175 487,1276Q600,1377 647,1472L763,1472Z" fill="#000"/><text transform="translate(407.83,70.50) scale(0.8653,1.0000)" font-size="26" font-family="Liberation Sans" font-style="normal">5</text><text transform="translate(429.17,70.50) scale(0.9325,1.0000)" font-size="26" font-family="Liberation Sans" font-style="normal">deg</text>
<text transform="translate(184.72,105.90) scale(0.8627,0.9100)" font-size="26" font-family="Liberation Sans" font-style="italic">z</text><text transform="translate(197.00,112.20) scale(0.9239,1.0000)" font-size="17" font-family="Liberation Sans" font-style="normal">wall</text><text transform="translate(232.90,105.90) scale(0.8784,1.0000)" font-size="26" font-family="Liberation Sans" font-style="normal">=</text><text transform="translate(255.00,105.90) scale(0.9000,1.0000)" font-size="26" font-family="Liberation Sans" font-style="normal">5.0</text><text transform="translate(295.81,105.90) scale(0.9677,1.0000)" font-size="26" font-family="Liberation Sans" font-style="normal">mm,</text><text transform="translate(354.15,105.90) scale(1.0818,1.0000)" font-size="26" font-family="Liberation Serif" font-style="italic">θ</text><text transform="translate(371.38,105.90) scale(0.9725,1.0000)" font-size="26" font-family="Liberation Sans" font-style="normal">=</text><text transform="translate(395.77,105.90) scale(0.9037,1.0000)" font-size="26" font-family="Liberation Sans" font-style="normal">7.5</text><text transform="translate(435.96,105.90) scale(0.9399,1.0000)" font-size="26" font-family="Liberation Sans" font-style="normal">deg</text>

</svg>
</body></html>
